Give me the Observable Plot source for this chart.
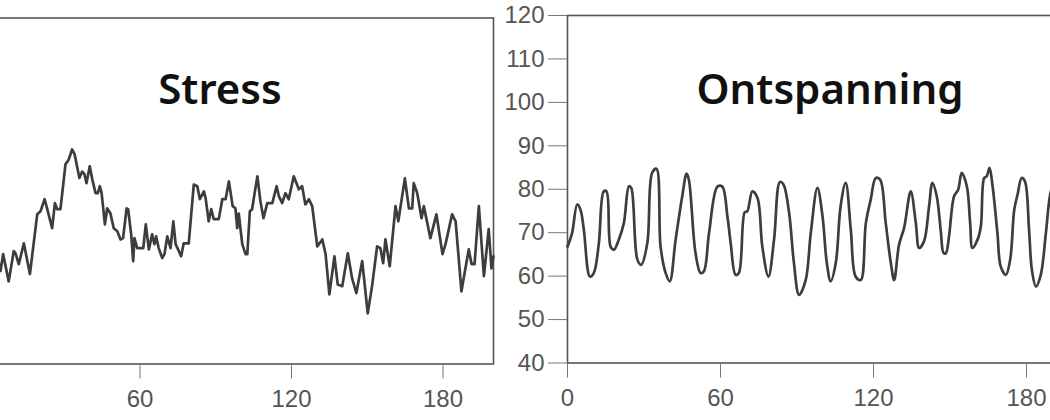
<!DOCTYPE html>
<html><head><meta charset="utf-8">
<script src="https://cdn.jsdelivr.net/npm/d3@7"></script>
<script src="https://cdn.jsdelivr.net/npm/@observablehq/plot@0.6"></script>
<style>
html,body{margin:0;padding:0;background:#fff;}
#wrap{position:relative;width:1050px;height:420px;overflow:hidden;background:#fff;}
#left,#right{position:absolute;top:0;}
#left svg,#right svg{max-width:none !important;}
.title{position:absolute;font-family:"Noto Sans",sans-serif;font-weight:600;font-size:42px;line-height:42px;color:#111;transform:translateX(-50%);white-space:nowrap;}
</style></head>
<body>
<div id="wrap"><div id="left"></div><div id="right"></div>
<div class="title" id="t1"></div><div class="title" id="t2"></div></div>
<script>
const panelTitles = ["Stress", "Ontspanning"];
const xTicksLeft = [60, 120, 180];
const xTicksRight = [0, 60, 120, 180];
const yTicks = [40, 50, 60, 70, 80, 90, 100, 110, 120];

const stressTime = [0,1.5,3,4.75,5.8,8.0,10.0,10.7,12.0,14.0,16.4,19.3,20.6,22.2,23.2,25.2,26.3,27.2,28.5,30.5,31.8,33.1,34.1,36.0,37.1,38.0,38.8,40.1,41.1,42.4,43.3,44.1,44.8,46.1,47.0,48.3,49.6,51.0,52.3,53.3,54.7,55.3,56.5,57.3,57.8,58.9,61.3,62.3,63.5,64.8,65.7,66.4,67.4,68.8,69.7,70.8,72.1,73.2,74.1,75.4,76.3,77.3,79.3,81.3,82.7,83.7,85.3,86.0,87.2,88.2,89.2,91.2,92.6,93.9,95.2,96.7,97.8,98.5,99.1,100.5,101.8,102.5,103.5,104.4,105.7,106.5,107.7,108.9,110.4,112.4,114.1,115.0,116.3,117.6,118.9,120.9,122.9,124.2,125.5,126.9,128.2,130.2,132.2,133.5,135.0,137.0,138.3,140.1,142.3,144.0,145.7,148.0,150.2,152.0,153.9,155.2,156.3,157.2,158.9,161.2,162.3,164.9,166.5,167.8,168.4,169.8,171.5,172.4,175.0,177.4,179.8,181.0,183.6,185.0,187.3,190.2,191.3,192.5,194.2,196.2,198.1,199.2,200];
const stressValue = [64,60,66,61.5,65.4,59.1,66.1,65.6,63.1,67.9,60.8,74.6,75.3,78.1,76.0,71.4,77.2,75.8,75.8,86.2,87.3,89.6,88.5,83.0,84.5,83.9,81.8,85.7,82.7,79.5,79.5,81.1,79.5,72.3,76.0,74.8,71.4,70.7,68.8,69.1,76.0,75.8,70.0,63.8,69.1,66.8,66.8,72.3,66.5,70.0,67.7,69.5,66.8,64.5,65.4,69.5,66.8,73.0,67.7,66.1,64.9,67.9,67.9,81.5,81.1,78.1,79.9,78.3,73.0,75.8,73.5,73.5,78.1,78.1,82.2,76.5,76.0,71.4,74.8,67.7,65.4,65.4,75.3,75.8,80.6,83.4,77.6,73.7,77.2,77.2,81.1,78.8,77.2,79.5,78.1,83.4,80.4,81.1,76.9,78.1,76.5,67.2,68.8,65.4,56.1,64.9,58.4,58.0,65.6,59.8,56.4,63.8,51.7,58.4,67.2,66.8,63.3,68.8,62.6,76.5,73.0,82.9,76.0,76.0,81.8,79.5,73.7,76.5,69.1,74.6,65.4,67.7,74.6,73.0,56.8,66.5,63.1,63.1,76.5,60.3,71.2,62.1,64.9];

const relaxTime = [0,1.8,3.8,5.1,6.4,8.8,10.3,12.3,14.2,15.3,16.9,18.2,20.1,22.1,24.1,25.0,27.4,28.9,31.3,33.2,34.9,36.5,38.5,40.1,42.4,45.0,46.7,47.6,50.2,52.2,53.5,55.5,58.8,60.7,62.7,64.0,65.9,67.2,69.5,70.5,72.5,74.5,76.4,78.8,81.0,83.3,84.7,86.9,88.8,90.8,93.4,95.4,98.0,100.0,101.7,103.2,105.2,107.1,109.1,111.1,113.0,115.0,117.0,118.9,120.9,122.6,124.8,126.8,128.1,130.0,132.0,134.6,136.6,137.9,139.8,141.8,143.1,144.8,146.4,147.5,148.4,149.6,151.6,153.2,154.6,156.6,157.9,158.8,160.8,162.1,163.4,164.4,165.5,166.7,168.6,169.9,171.9,173.6,175.2,176.5,178.1,179.4,181.0,182.1,183.7,185.6,187.6,189.3,190.8,192.5];
const relaxValue = [66.8,69.9,76.5,75.3,70.7,59.9,60.7,67.6,79.5,79.5,66.8,66.1,68.4,72.2,80.7,80.3,63.8,62.6,67.6,83.8,84.7,66.8,60.7,58.8,68.4,78.4,83.6,82.2,65.3,60.7,61.1,69.9,80.6,80.6,73.8,67.6,60.3,60.7,74.7,74.9,79.5,78.0,66.8,59.9,68.4,81.7,81.1,74.6,63.0,55.7,59.1,69.9,80.3,73.8,63.0,58.8,63.0,76.1,81.5,70.7,59.9,59.1,72.2,77.6,82.6,82.2,72.2,63.0,59.1,67.2,71.1,79.5,72.2,66.5,68.0,76.1,81.5,78.4,70.3,65.3,65.3,69.1,78.4,79.9,83.8,80.7,72.2,66.5,68.4,71.5,82.6,83.0,84.9,80.7,69.9,62.2,60.3,63.8,75.3,78.8,82.6,81.8,70.7,61.5,57.6,60.3,69.9,78.8,81.5,80];

const stress = stressTime.map((t, i) => ({t, v: stressValue[i]}));
const relax = relaxTime.map((t, i) => ({t, v: relaxValue[i]}));

const axisStyle = {fontFamily: "'Liberation Sans', Arial, sans-serif", fontSize: "24px", color: "#555", background: "transparent", overflow: "visible", maxWidth: "none"};

const left = Plot.plot({
  width: 535, height: 420,
  marginLeft: 20, marginRight: 10, marginTop: 17.5, marginBottom: 56.5,
  style: axisStyle,
  x: {domain: [0, 200]},
  y: {domain: [40, 120], axis: null},
  marks: [
    Plot.frame({stroke: "#555", strokeWidth: 1.6}),
    Plot.axisX({ticks: xTicksLeft, tickSize: 15, tickPadding: 11, label: null, stroke: "#777"}),
    Plot.line(stress, {x: "t", y: "v", stroke: "#3d3d3d", strokeWidth: 2.7, strokeLinejoin: "round"})
  ]
});
const leftDiv = document.getElementById("left");
leftDiv.style.left = "-32px";
leftDiv.style.width = "535px";
leftDiv.appendChild(left);

const right = Plot.plot({
  width: 610, height: 420,
  marginLeft: 80, marginRight: 20, marginTop: 15, marginBottom: 57.5,
  style: axisStyle,
  x: {domain: [0, 200]},
  y: {domain: [40, 120]},
  marks: [
    Plot.frame({stroke: "#555", strokeWidth: 1.6}),
    Plot.axisX({ticks: xTicksRight, tickSize: 15, tickPadding: 11, label: null, stroke: "#777"}),
    Plot.axisY({ticks: yTicks, tickSize: 19, tickPadding: 4, label: null, stroke: "#777"}),
    Plot.line(relax, {x: "t", y: "v", stroke: "#3d3d3d", strokeWidth: 2.7, curve: "catmull-rom"})
  ]
});
const rightDiv = document.getElementById("right");
rightDiv.style.left = "487px";
rightDiv.style.width = "610px";
rightDiv.appendChild(right);

const t1 = document.getElementById("t1");
t1.textContent = panelTitles[0];
t1.style.left = "220px"; t1.style.top = "67px";
const t2 = document.getElementById("t2");
t2.textContent = panelTitles[1];
t2.style.left = "830px"; t2.style.top = "67px";
</script>
</body></html>
